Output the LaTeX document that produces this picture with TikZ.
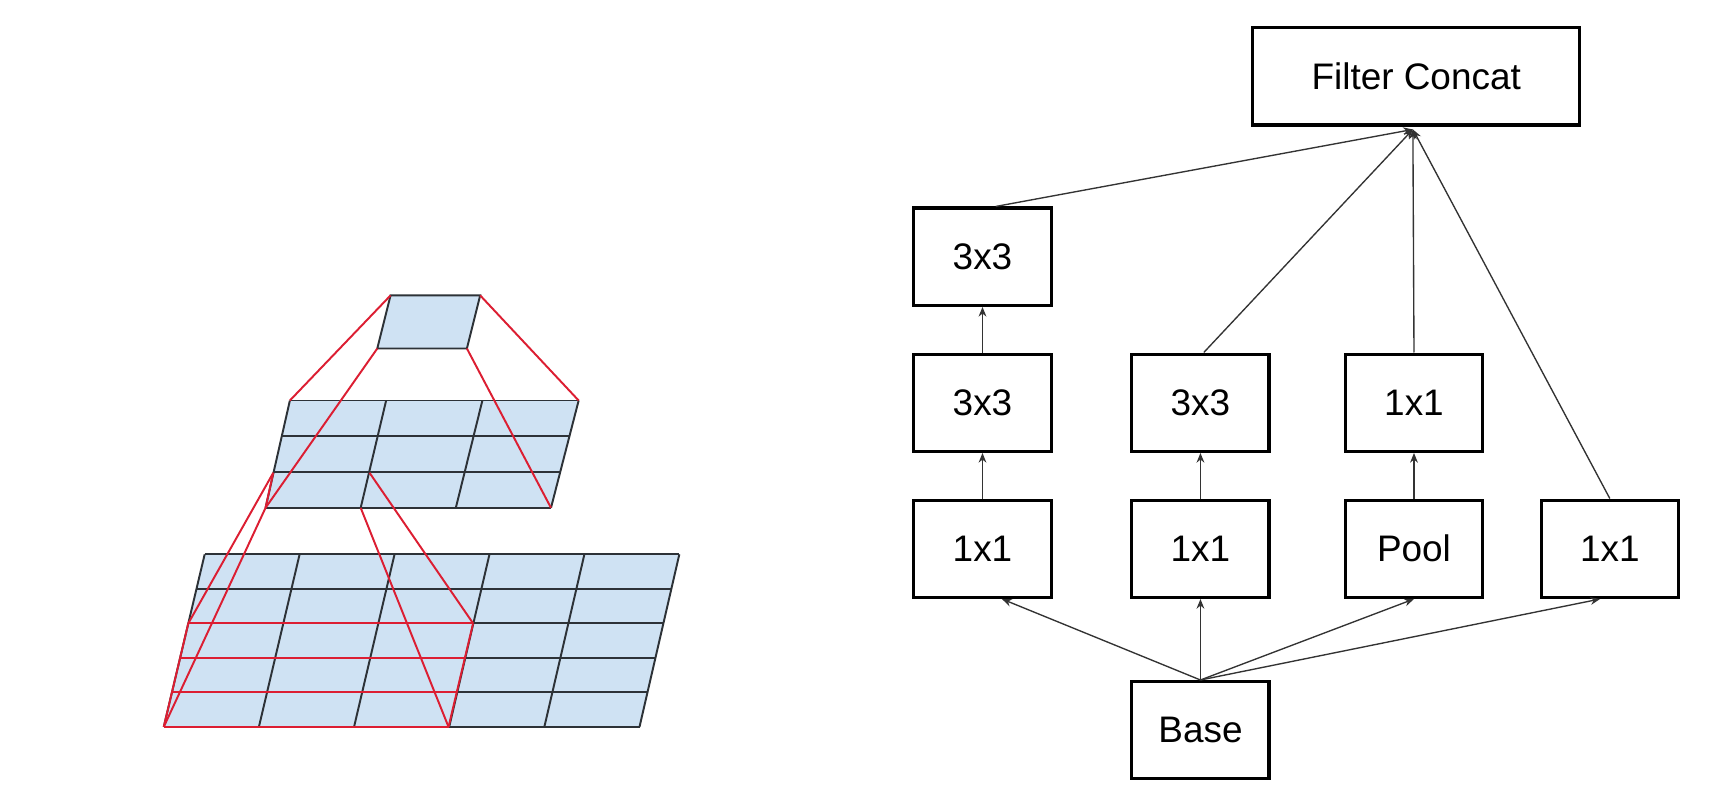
\documentclass[tikz,border=0pt]{standalone}
\usepackage{fontspec}
\setmainfont{Liberation Sans}
\usetikzlibrary{arrows.meta}
\definecolor{cellblue}{RGB}{207,226,243}
\definecolor{gridline}{RGB}{45,50,55}
\definecolor{redline}{RGB}{220,30,50}
\begin{document}
\begin{tikzpicture}[x=0.02cm,y=-0.02cm,
  box/.style={draw=black,line width=1.6pt,minimum width=2.48cm,minimum height=1.76cm,inner sep=0pt,font=\fontsize{19}{22}\selectfont,fill=white},
  conn/.style={draw=black!80,line width=0.7pt},
  arr/.style={conn,-{Stealth[length=5pt,width=4pt]}},
  grid/.style={draw=gridline,line width=1pt},
  red/.style={draw=redline,line width=1pt}]
\useasboundingbox (0,0) rectangle (1560,712);
% ---------- left: receptive fields ----------
% bottom grid 5x5
\fill[cellblue] (185,501) -- (614,501) -- (578,657) -- (148,657) -- cycle;
\foreach \i in {0,...,5}{
  \pgfmathsetmacro\yy{501+\i*31.2}
  \pgfmathsetmacro\xl{185-(\yy-501)*37/156}
  \pgfmathsetmacro\xr{614-(\yy-501)*36/156}
  \draw[grid] (\xl,\yy) -- (\xr,\yy);
  \pgfmathsetmacro\xt{185+\i*85.8}
  \pgfmathsetmacro\xb{148+\i*86}
  \draw[grid] (\xt,501) -- (\xb,657);
}
% red region on bottom grid (rows 3-5, cols 1-3)
\foreach \yy in {563.4,594.6,625.8,657}{
  \pgfmathsetmacro\xl{185-(\yy-501)*37/156}
  \pgfmathsetmacro\xr{\xl+257.4}
  \draw[red] (\xl,\yy) -- (\xr,\yy);
}
\draw[red] (170.2,563.4) -- (148,657);
\draw[red] (427.6,563.4) -- (405.4,657);
% middle grid 3x3
\fill[cellblue] (262,362) -- (523,362) -- (498,459) -- (240,459) -- cycle;
\foreach \i in {0,...,3}{
  \pgfmathsetmacro\yy{362+\i*32.33}
  \pgfmathsetmacro\xl{262-(\yy-362)*22/97}
  \pgfmathsetmacro\xr{523-(\yy-362)*25/97}
  \draw[grid] (\xl,\yy) -- (\xr,\yy);
  \pgfmathsetmacro\xt{262+\i*87}
  \pgfmathsetmacro\xb{240+\i*86}
  \draw[grid] (\xt,362) -- (\xb,459);
}
\draw[red] (247,427.3) -- (240,459);
% red lines middle cell -> bottom region
\draw[red] (247,427.3) -- (170.2,563.4);
\draw[red] (240,459) -- (148,657);
\draw[red] (334,427.3) -- (427.6,563.4);
\draw[red] (326,459) -- (405.4,657);
% top cell
\fill[cellblue] (353,267) -- (434,267) -- (422,315) -- (341,315) -- cycle;
\draw[grid] (353,267) -- (434,267) -- (422,315) -- (341,315) -- cycle;
\draw[red] (353,267) -- (262,362);
\draw[red] (434,267) -- (523,362);
\draw[red] (341,315) -- (240,459);
\draw[red] (422,315) -- (498,459);
% ---------- right: inception module ----------
\node[box,minimum width=5.92cm] (fc) at (1280,69) {Filter Concat};
\node[box] (a3) at (888,232) {3x3};
\node[box] (a2) at (888,364) {3x3};
\node[box] (a1) at (888,496) {1x1};
\node[box] (b2) at (1085,364) {3x3};
\node[box] (b1) at (1085,496) {1x1};
\node[box] (c2) at (1278,364) {1x1};
\node[box] (c1) at (1278,496) {Pool};
\node[box] (d1) at (1455,496) {1x1};
\node[box] (base) at (1085,660) {Base};
\coordinate (tip) at (1277,117);
\draw[arr] (a3.north) ++(12,0) coordinate (a3t) -- (tip);
\draw[arr] (b2.north) ++(3,0) coordinate (b2t) -- (tip);
\draw[arr] (c2.north) -- (tip);
\draw[arr] (d1.north) -- (tip);
\draw[arr] (a1) -- (a2);
\draw[arr] (a2) -- (a3);
\draw[arr] (b1) -- (b2);
\draw[arr] (c1) -- (c2);
\draw[arr] (base.north) -- ([xshift=10]a1.south);
\draw[arr] (base.north) -- (b1.south);
\draw[arr] (base.north) -- (c1.south);
\draw[arr] (base.north) -- ([xshift=-5]d1.south);
\end{tikzpicture}
\end{document}
